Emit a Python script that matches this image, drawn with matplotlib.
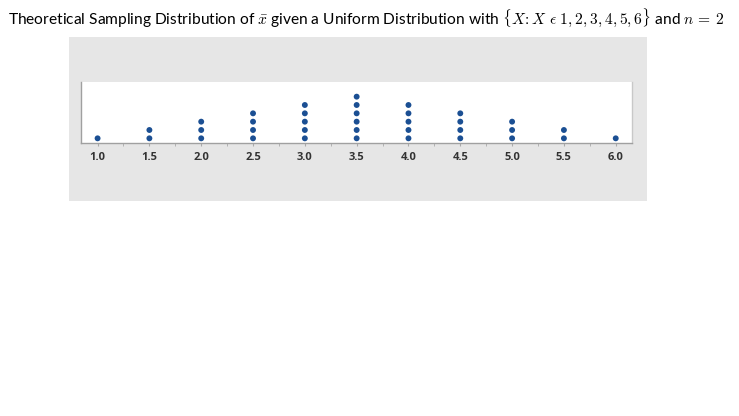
import numpy as np
import matplotlib.pyplot as plt
from matplotlib.patches import Rectangle

# sample means and how many of the 36 samples give each
means = [1.0, 1.5, 2.0, 2.5, 3.0, 3.5, 4.0, 4.5, 5.0, 5.5, 6.0]
counts = [1, 2, 3, 4, 5, 6, 5, 4, 3, 2, 1]
tick_labels = ["1.0", "1.5", "2.0", "2.5", "3.0", "3.5", "4.0", "4.5", "5.0", "5.5", "6.0"]

title = (r"Theoretical Sampling Distribution of $\bar{x}$ given a Uniform Distribution "
         r"with $\{X\!: X\ \epsilon\ 1,2,3,4,5,6\}$ and $n\,=\,2$")

W, H = 739, 416
plt.rcParams['font.family'] = ['Lato', 'DejaVu Sans']
plt.rcParams['mathtext.fontset'] = 'cm'

fig = plt.figure(figsize=(W / 100, H / 100), dpi=100)

# gray panel behind the plot
fig.patches.append(Rectangle((69 / W, 1 - 201 / H), (647 - 69) / W, (201 - 37) / H,
                             transform=fig.transFigure, facecolor='#e6e6e6',
                             edgecolor='none', zorder=0))

fig.text(8 / W, 1 - 18 / H, title, fontsize=11.2, va='center', ha='left', color='black')

ax = fig.add_axes([81 / W, 1 - 143 / H, (632 - 81) / W, (143 - 82) / H])
ax.set_zorder(2)
ax.set_facecolor('white')

xs, ys = [], []
for m, c in zip(means, counts):
    for k in range(1, c + 1):
        xs.append(m)
        ys.append(k)
ax.scatter(xs, ys, s=18, color='#1b4f93', edgecolors='none', zorder=3)

ax.set_xlim(0.84, 6.157)
ax.set_ylim(0.44, 7.76)
ax.set_yticks([])
ax.set_xticks(means)
ax.set_xticklabels(tick_labels, fontsize=8, fontweight='bold', color='#333333',
                   family=['Open Sans', 'DejaVu Sans'])
ax.set_xticks(np.arange(1.25, 6.0, 0.5), minor=True)
ax.tick_params(axis='x', which='major', length=2.5, color='#aaaaaa', pad=4)
ax.tick_params(axis='x', which='minor', length=2, color='#aaaaaa')

ax.spines['top'].set_visible(False)
for s in ['left', 'bottom', 'right']:
    ax.spines[s].set_color('#a0a0a0')
    ax.spines[s].set_linewidth(1)
ax.spines['right'].set_color('#c8c8c8')

fig.savefig('out.png', dpi=100)
